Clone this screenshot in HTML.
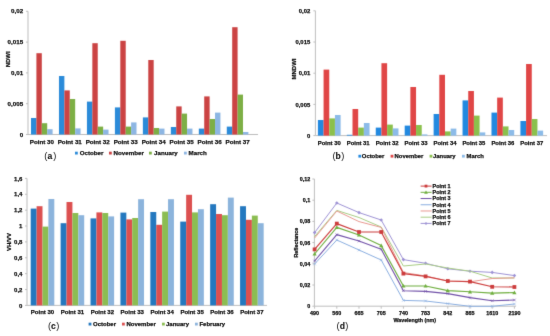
<!DOCTYPE html><html><head><meta charset="utf-8"><style>html,body{margin:0;padding:0;background:#fff;overflow:hidden}svg{display:block}</style></head><body>
<div id="w">
<svg width="550" height="336" viewBox="0 0 550 336" font-family="Liberation Sans, sans-serif" fill="#111" stroke-linejoin="round">
<style>text{stroke:#111;stroke-width:0.25px}</style>
<defs><filter id="bl" x="0" y="0" width="550" height="336" filterUnits="userSpaceOnUse" color-interpolation-filters="sRGB"><feConvolveMatrix order="3" kernelMatrix="1 7 1 7 54 7 1 7 1" divisor="86" edgeMode="duplicate"/></filter><filter id="bt" x="0" y="0" width="550" height="336" filterUnits="userSpaceOnUse" color-interpolation-filters="sRGB"><feConvolveMatrix order="3" kernelMatrix="0 1 0 1 12 1 0 1 0" divisor="16.0" edgeMode="none" preserveAlpha="false"/></filter></defs>
<rect width="550" height="336" fill="#fff"/>
<g filter="url(#bl)">
<line x1="28.00" y1="11.30" x2="28.00" y2="134.50" stroke="#bdbdbd" stroke-width="1"/>
<line x1="28.00" y1="134.50" x2="258.00" y2="134.50" stroke="#bdbdbd" stroke-width="1"/>
<line x1="26.00" y1="11.30" x2="28.00" y2="11.30" stroke="#bdbdbd" stroke-width="1"/>
<line x1="26.00" y1="42.10" x2="28.00" y2="42.10" stroke="#bdbdbd" stroke-width="1"/>
<line x1="26.00" y1="72.90" x2="28.00" y2="72.90" stroke="#bdbdbd" stroke-width="1"/>
<line x1="26.00" y1="103.70" x2="28.00" y2="103.70" stroke="#bdbdbd" stroke-width="1"/>
<line x1="26.00" y1="134.50" x2="28.00" y2="134.50" stroke="#bdbdbd" stroke-width="1"/>
<rect x="31.00" y="118.00" width="5.40" height="16.50" fill="#2b8bd9"/>
<rect x="36.40" y="53.20" width="5.40" height="81.30" fill="#cb4343"/>
<rect x="41.80" y="123.20" width="5.40" height="11.30" fill="#7daf45"/>
<rect x="47.20" y="129.20" width="5.40" height="5.30" fill="#8db6e3"/>
<rect x="58.97" y="76.00" width="5.40" height="58.50" fill="#2b8bd9"/>
<rect x="64.37" y="90.40" width="5.40" height="44.10" fill="#cb4343"/>
<rect x="69.77" y="99.00" width="5.40" height="35.50" fill="#7daf45"/>
<rect x="75.17" y="128.40" width="5.40" height="6.10" fill="#8db6e3"/>
<rect x="86.94" y="101.60" width="5.40" height="32.90" fill="#2b8bd9"/>
<rect x="92.34" y="43.20" width="5.40" height="91.30" fill="#cb4343"/>
<rect x="97.74" y="126.60" width="5.40" height="7.90" fill="#7daf45"/>
<rect x="103.14" y="129.60" width="5.40" height="4.90" fill="#8db6e3"/>
<rect x="114.91" y="107.40" width="5.40" height="27.10" fill="#2b8bd9"/>
<rect x="120.31" y="40.80" width="5.40" height="93.70" fill="#cb4343"/>
<rect x="125.71" y="126.60" width="5.40" height="7.90" fill="#7daf45"/>
<rect x="131.11" y="122.40" width="5.40" height="12.10" fill="#8db6e3"/>
<rect x="142.88" y="117.40" width="5.40" height="17.10" fill="#2b8bd9"/>
<rect x="148.28" y="60.00" width="5.40" height="74.50" fill="#cb4343"/>
<rect x="153.68" y="128.00" width="5.40" height="6.50" fill="#7daf45"/>
<rect x="159.08" y="128.60" width="5.40" height="5.90" fill="#8db6e3"/>
<rect x="170.85" y="127.00" width="5.40" height="7.50" fill="#2b8bd9"/>
<rect x="176.25" y="106.40" width="5.40" height="28.10" fill="#cb4343"/>
<rect x="181.65" y="113.60" width="5.40" height="20.90" fill="#7daf45"/>
<rect x="187.05" y="128.60" width="5.40" height="5.90" fill="#8db6e3"/>
<rect x="198.82" y="128.60" width="5.40" height="5.90" fill="#2b8bd9"/>
<rect x="204.22" y="96.40" width="5.40" height="38.10" fill="#cb4343"/>
<rect x="209.62" y="119.00" width="5.40" height="15.50" fill="#7daf45"/>
<rect x="215.02" y="112.60" width="5.40" height="21.90" fill="#8db6e3"/>
<rect x="226.79" y="126.60" width="5.40" height="7.90" fill="#2b8bd9"/>
<rect x="232.19" y="27.20" width="5.40" height="107.30" fill="#cb4343"/>
<rect x="237.59" y="94.60" width="5.40" height="39.90" fill="#7daf45"/>
<rect x="242.99" y="132.00" width="5.40" height="2.50" fill="#8db6e3"/>
<rect x="75.00" y="151.70" width="2.80" height="2.80" fill="#2b8bd9"/>
<rect x="109.00" y="151.70" width="2.80" height="2.80" fill="#cb4343"/>
<rect x="149.00" y="151.70" width="2.80" height="2.80" fill="#7daf45"/>
<rect x="184.00" y="151.70" width="2.80" height="2.80" fill="#8db6e3"/>
<line x1="315.40" y1="10.80" x2="315.40" y2="135.60" stroke="#bdbdbd" stroke-width="1"/>
<line x1="315.40" y1="135.60" x2="547.00" y2="135.60" stroke="#bdbdbd" stroke-width="1"/>
<line x1="313.40" y1="10.80" x2="315.40" y2="10.80" stroke="#bdbdbd" stroke-width="1"/>
<line x1="313.40" y1="42.00" x2="315.40" y2="42.00" stroke="#bdbdbd" stroke-width="1"/>
<line x1="313.40" y1="73.20" x2="315.40" y2="73.20" stroke="#bdbdbd" stroke-width="1"/>
<line x1="313.40" y1="104.40" x2="315.40" y2="104.40" stroke="#bdbdbd" stroke-width="1"/>
<line x1="313.40" y1="135.60" x2="315.40" y2="135.60" stroke="#bdbdbd" stroke-width="1"/>
<rect x="317.90" y="120.00" width="5.68" height="15.60" fill="#2289e0"/>
<rect x="323.58" y="69.60" width="5.68" height="66.00" fill="#e04646"/>
<rect x="329.26" y="118.40" width="5.68" height="17.20" fill="#8bc04c"/>
<rect x="334.94" y="115.00" width="5.68" height="20.60" fill="#8cbbe8"/>
<rect x="346.83" y="134.80" width="5.68" height="0.80" fill="#2289e0"/>
<rect x="352.51" y="109.00" width="5.68" height="26.60" fill="#e04646"/>
<rect x="358.19" y="127.60" width="5.68" height="8.00" fill="#8bc04c"/>
<rect x="363.87" y="123.00" width="5.68" height="12.60" fill="#8cbbe8"/>
<rect x="375.76" y="127.60" width="5.68" height="8.00" fill="#2289e0"/>
<rect x="381.44" y="63.20" width="5.68" height="72.40" fill="#e04646"/>
<rect x="387.12" y="124.60" width="5.68" height="11.00" fill="#8bc04c"/>
<rect x="392.80" y="128.40" width="5.68" height="7.20" fill="#8cbbe8"/>
<rect x="404.69" y="125.60" width="5.68" height="10.00" fill="#2289e0"/>
<rect x="410.37" y="87.00" width="5.68" height="48.60" fill="#e04646"/>
<rect x="416.05" y="125.00" width="5.68" height="10.60" fill="#8bc04c"/>
<rect x="421.73" y="134.40" width="5.68" height="1.20" fill="#8cbbe8"/>
<rect x="433.62" y="114.00" width="5.68" height="21.60" fill="#2289e0"/>
<rect x="439.30" y="74.80" width="5.68" height="60.80" fill="#e04646"/>
<rect x="444.98" y="131.40" width="5.68" height="4.20" fill="#8bc04c"/>
<rect x="450.66" y="128.60" width="5.68" height="7.00" fill="#8cbbe8"/>
<rect x="462.55" y="100.40" width="5.68" height="35.20" fill="#2289e0"/>
<rect x="468.23" y="91.00" width="5.68" height="44.60" fill="#e04646"/>
<rect x="473.91" y="115.60" width="5.68" height="20.00" fill="#8bc04c"/>
<rect x="479.59" y="132.40" width="5.68" height="3.20" fill="#8cbbe8"/>
<rect x="491.48" y="112.60" width="5.68" height="23.00" fill="#2289e0"/>
<rect x="497.16" y="97.60" width="5.68" height="38.00" fill="#e04646"/>
<rect x="502.84" y="126.40" width="5.68" height="9.20" fill="#8bc04c"/>
<rect x="508.52" y="130.00" width="5.68" height="5.60" fill="#8cbbe8"/>
<rect x="520.41" y="121.00" width="5.68" height="14.60" fill="#2289e0"/>
<rect x="526.09" y="64.00" width="5.68" height="71.60" fill="#e04646"/>
<rect x="531.77" y="119.00" width="5.68" height="16.60" fill="#8bc04c"/>
<rect x="537.45" y="130.60" width="5.68" height="5.00" fill="#8cbbe8"/>
<rect x="358.40" y="154.80" width="2.80" height="2.80" fill="#2289e0"/>
<rect x="390.60" y="154.80" width="2.80" height="2.80" fill="#e04646"/>
<rect x="429.60" y="154.80" width="2.80" height="2.80" fill="#8bc04c"/>
<rect x="462.00" y="154.80" width="2.80" height="2.80" fill="#8cbbe8"/>
<line x1="27.00" y1="178.40" x2="27.00" y2="305.40" stroke="#bdbdbd" stroke-width="1"/>
<line x1="27.00" y1="305.40" x2="267.00" y2="305.40" stroke="#bdbdbd" stroke-width="1"/>
<line x1="25.00" y1="178.40" x2="27.00" y2="178.40" stroke="#bdbdbd" stroke-width="1"/>
<line x1="25.00" y1="194.28" x2="27.00" y2="194.28" stroke="#bdbdbd" stroke-width="1"/>
<line x1="25.00" y1="210.15" x2="27.00" y2="210.15" stroke="#bdbdbd" stroke-width="1"/>
<line x1="25.00" y1="226.02" x2="27.00" y2="226.02" stroke="#bdbdbd" stroke-width="1"/>
<line x1="25.00" y1="241.90" x2="27.00" y2="241.90" stroke="#bdbdbd" stroke-width="1"/>
<line x1="25.00" y1="257.77" x2="27.00" y2="257.77" stroke="#bdbdbd" stroke-width="1"/>
<line x1="25.00" y1="273.65" x2="27.00" y2="273.65" stroke="#bdbdbd" stroke-width="1"/>
<line x1="25.00" y1="289.52" x2="27.00" y2="289.52" stroke="#bdbdbd" stroke-width="1"/>
<line x1="25.00" y1="305.40" x2="27.00" y2="305.40" stroke="#bdbdbd" stroke-width="1"/>
<rect x="30.70" y="208.60" width="5.90" height="96.80" fill="#2478bf"/>
<rect x="36.60" y="206.20" width="5.90" height="99.20" fill="#dc5050"/>
<rect x="42.50" y="226.60" width="5.90" height="78.80" fill="#8cbd52"/>
<rect x="48.40" y="199.00" width="5.90" height="106.40" fill="#8cb4dc"/>
<rect x="60.61" y="223.20" width="5.90" height="82.20" fill="#2478bf"/>
<rect x="66.51" y="202.00" width="5.90" height="103.40" fill="#dc5050"/>
<rect x="72.41" y="213.00" width="5.90" height="92.40" fill="#8cbd52"/>
<rect x="78.31" y="215.20" width="5.90" height="90.20" fill="#8cb4dc"/>
<rect x="90.52" y="218.40" width="5.90" height="87.00" fill="#2478bf"/>
<rect x="96.42" y="212.40" width="5.90" height="93.00" fill="#dc5050"/>
<rect x="102.32" y="213.00" width="5.90" height="92.40" fill="#8cbd52"/>
<rect x="108.22" y="216.40" width="5.90" height="89.00" fill="#8cb4dc"/>
<rect x="120.43" y="212.60" width="5.90" height="92.80" fill="#2478bf"/>
<rect x="126.33" y="219.40" width="5.90" height="86.00" fill="#dc5050"/>
<rect x="132.23" y="218.00" width="5.90" height="87.40" fill="#8cbd52"/>
<rect x="138.13" y="199.20" width="5.90" height="106.20" fill="#8cb4dc"/>
<rect x="150.34" y="212.00" width="5.90" height="93.40" fill="#2478bf"/>
<rect x="156.24" y="224.80" width="5.90" height="80.60" fill="#dc5050"/>
<rect x="162.14" y="211.60" width="5.90" height="93.80" fill="#8cbd52"/>
<rect x="168.04" y="199.20" width="5.90" height="106.20" fill="#8cb4dc"/>
<rect x="180.25" y="221.60" width="5.90" height="83.80" fill="#2478bf"/>
<rect x="186.15" y="194.80" width="5.90" height="110.60" fill="#dc5050"/>
<rect x="192.05" y="212.40" width="5.90" height="93.00" fill="#8cbd52"/>
<rect x="197.95" y="209.20" width="5.90" height="96.20" fill="#8cb4dc"/>
<rect x="210.16" y="204.20" width="5.90" height="101.20" fill="#2478bf"/>
<rect x="216.06" y="214.00" width="5.90" height="91.40" fill="#dc5050"/>
<rect x="221.96" y="215.20" width="5.90" height="90.20" fill="#8cbd52"/>
<rect x="227.86" y="197.60" width="5.90" height="107.80" fill="#8cb4dc"/>
<rect x="240.07" y="206.20" width="5.90" height="99.20" fill="#2478bf"/>
<rect x="245.97" y="219.80" width="5.90" height="85.60" fill="#dc5050"/>
<rect x="251.87" y="215.60" width="5.90" height="89.80" fill="#8cbd52"/>
<rect x="257.77" y="223.20" width="5.90" height="82.20" fill="#8cb4dc"/>
<rect x="88.60" y="322.70" width="2.80" height="2.80" fill="#2478bf"/>
<rect x="122.00" y="322.70" width="2.80" height="2.80" fill="#dc5050"/>
<rect x="162.00" y="322.70" width="2.80" height="2.80" fill="#8cbd52"/>
<rect x="195.00" y="322.70" width="2.80" height="2.80" fill="#8cb4dc"/>
<line x1="314.40" y1="179.00" x2="314.40" y2="306.20" stroke="#bdbdbd" stroke-width="1"/>
<line x1="314.40" y1="306.20" x2="516.00" y2="306.20" stroke="#bdbdbd" stroke-width="1"/>
<line x1="312.40" y1="179.00" x2="314.40" y2="179.00" stroke="#bdbdbd" stroke-width="1"/>
<line x1="312.40" y1="200.20" x2="314.40" y2="200.20" stroke="#bdbdbd" stroke-width="1"/>
<line x1="312.40" y1="221.40" x2="314.40" y2="221.40" stroke="#bdbdbd" stroke-width="1"/>
<line x1="312.40" y1="242.60" x2="314.40" y2="242.60" stroke="#bdbdbd" stroke-width="1"/>
<line x1="312.40" y1="263.80" x2="314.40" y2="263.80" stroke="#bdbdbd" stroke-width="1"/>
<line x1="312.40" y1="285.00" x2="314.40" y2="285.00" stroke="#bdbdbd" stroke-width="1"/>
<line x1="312.40" y1="306.20" x2="314.40" y2="306.20" stroke="#bdbdbd" stroke-width="1"/>
<line x1="314.60" y1="306.20" x2="314.60" y2="308.70" stroke="#bdbdbd" stroke-width="1"/>
<line x1="336.80" y1="306.20" x2="336.80" y2="308.70" stroke="#bdbdbd" stroke-width="1"/>
<line x1="359.00" y1="306.20" x2="359.00" y2="308.70" stroke="#bdbdbd" stroke-width="1"/>
<line x1="381.20" y1="306.20" x2="381.20" y2="308.70" stroke="#bdbdbd" stroke-width="1"/>
<line x1="403.40" y1="306.20" x2="403.40" y2="308.70" stroke="#bdbdbd" stroke-width="1"/>
<line x1="425.60" y1="306.20" x2="425.60" y2="308.70" stroke="#bdbdbd" stroke-width="1"/>
<line x1="447.80" y1="306.20" x2="447.80" y2="308.70" stroke="#bdbdbd" stroke-width="1"/>
<line x1="470.00" y1="306.20" x2="470.00" y2="308.70" stroke="#bdbdbd" stroke-width="1"/>
<line x1="492.20" y1="306.20" x2="492.20" y2="308.70" stroke="#bdbdbd" stroke-width="1"/>
<line x1="514.40" y1="306.20" x2="514.40" y2="308.70" stroke="#bdbdbd" stroke-width="1"/>
<polyline points="314.60,232.60 336.80,203.00 359.00,212.60 381.20,220.00 403.40,259.60 425.60,263.30 447.80,268.80 470.00,271.20 492.20,272.40 514.40,275.60" fill="none" stroke="#9d92d4" stroke-width="1.0" stroke-linejoin="round"/>
<path d="M314.60,230.80 L316.40,232.60 L314.60,234.40 L312.80,232.60Z" fill="#9d92d4"/>
<path d="M336.80,201.20 L338.60,203.00 L336.80,204.80 L335.00,203.00Z" fill="#9d92d4"/>
<path d="M359.00,210.80 L360.80,212.60 L359.00,214.40 L357.20,212.60Z" fill="#9d92d4"/>
<path d="M381.20,218.20 L383.00,220.00 L381.20,221.80 L379.40,220.00Z" fill="#9d92d4"/>
<path d="M403.40,257.80 L405.20,259.60 L403.40,261.40 L401.60,259.60Z" fill="#9d92d4"/>
<path d="M425.60,261.50 L427.40,263.30 L425.60,265.10 L423.80,263.30Z" fill="#9d92d4"/>
<path d="M447.80,267.00 L449.60,268.80 L447.80,270.60 L446.00,268.80Z" fill="#9d92d4"/>
<path d="M470.00,269.40 L471.80,271.20 L470.00,273.00 L468.20,271.20Z" fill="#9d92d4"/>
<path d="M492.20,270.60 L494.00,272.40 L492.20,274.20 L490.40,272.40Z" fill="#9d92d4"/>
<path d="M514.40,273.80 L516.20,275.60 L514.40,277.40 L512.60,275.60Z" fill="#9d92d4"/>
<polyline points="314.60,236.60 336.80,210.40 359.00,217.50 381.20,227.00 403.40,266.00 425.60,264.00 447.80,268.00 470.00,271.20 492.20,278.00 514.40,278.00" fill="none" stroke="#a8cc84" stroke-width="1.0" stroke-linejoin="round"/>
<polyline points="314.60,238.00 336.80,211.00 359.00,221.60 381.20,227.40 403.40,272.50 425.60,276.00 447.80,281.00 470.00,281.80 492.20,278.50 514.40,277.80" fill="none" stroke="#e89890" stroke-width="1.0" stroke-linejoin="round"/>
<polyline points="314.60,264.00 336.80,240.00 359.00,250.00 381.20,260.00 403.40,300.40 425.60,301.00 447.80,303.60 470.00,306.30 492.20,306.30 514.40,304.00" fill="none" stroke="#8aaee0" stroke-width="1.0" stroke-linejoin="round"/>
<path d="M313.30,262.70 L315.90,265.30 M315.90,262.70 L313.30,265.30" stroke="#8aaee0" stroke-width="0.6"/>
<path d="M335.50,238.70 L338.10,241.30 M338.10,238.70 L335.50,241.30" stroke="#8aaee0" stroke-width="0.6"/>
<path d="M357.70,248.70 L360.30,251.30 M360.30,248.70 L357.70,251.30" stroke="#8aaee0" stroke-width="0.6"/>
<path d="M379.90,258.70 L382.50,261.30 M382.50,258.70 L379.90,261.30" stroke="#8aaee0" stroke-width="0.6"/>
<path d="M402.10,299.10 L404.70,301.70 M404.70,299.10 L402.10,301.70" stroke="#8aaee0" stroke-width="0.6"/>
<path d="M424.30,299.70 L426.90,302.30 M426.90,299.70 L424.30,302.30" stroke="#8aaee0" stroke-width="0.6"/>
<path d="M446.50,302.30 L449.10,304.90 M449.10,302.30 L446.50,304.90" stroke="#8aaee0" stroke-width="0.6"/>
<path d="M468.70,305.00 L471.30,307.60 M471.30,305.00 L468.70,307.60" stroke="#8aaee0" stroke-width="0.6"/>
<path d="M490.90,305.00 L493.50,307.60 M493.50,305.00 L490.90,307.60" stroke="#8aaee0" stroke-width="0.6"/>
<path d="M513.10,302.70 L515.70,305.30 M515.70,302.70 L513.10,305.30" stroke="#8aaee0" stroke-width="0.6"/>
<polyline points="314.60,261.00 336.80,234.60 359.00,241.00 381.20,249.20 403.40,290.70 425.60,291.40 447.80,293.60 470.00,297.60 492.20,300.70 514.40,300.00" fill="none" stroke="#7050a8" stroke-width="1.1" stroke-linejoin="round"/>
<path d="M313.30,259.70 L315.90,262.30 M315.90,259.70 L313.30,262.30" stroke="#7050a8" stroke-width="0.6"/>
<path d="M335.50,233.30 L338.10,235.90 M338.10,233.30 L335.50,235.90" stroke="#7050a8" stroke-width="0.6"/>
<path d="M357.70,239.70 L360.30,242.30 M360.30,239.70 L357.70,242.30" stroke="#7050a8" stroke-width="0.6"/>
<path d="M379.90,247.90 L382.50,250.50 M382.50,247.90 L379.90,250.50" stroke="#7050a8" stroke-width="0.6"/>
<path d="M402.10,289.40 L404.70,292.00 M404.70,289.40 L402.10,292.00" stroke="#7050a8" stroke-width="0.6"/>
<path d="M424.30,290.10 L426.90,292.70 M426.90,290.10 L424.30,292.70" stroke="#7050a8" stroke-width="0.6"/>
<path d="M446.50,292.30 L449.10,294.90 M449.10,292.30 L446.50,294.90" stroke="#7050a8" stroke-width="0.6"/>
<path d="M468.70,296.30 L471.30,298.90 M471.30,296.30 L468.70,298.90" stroke="#7050a8" stroke-width="0.6"/>
<path d="M490.90,299.40 L493.50,302.00 M493.50,299.40 L490.90,302.00" stroke="#7050a8" stroke-width="0.6"/>
<path d="M513.10,298.70 L515.70,301.30 M515.70,298.70 L513.10,301.30" stroke="#7050a8" stroke-width="0.6"/>
<polyline points="314.60,254.00 336.80,227.40 359.00,235.00 381.20,245.60 403.40,286.00 425.60,286.00 447.80,290.60 470.00,291.80 492.20,293.10 514.40,292.60" fill="none" stroke="#6fae3e" stroke-width="1.15" stroke-linejoin="round"/>
<path d="M314.60,251.90 L316.70,255.60 L312.50,255.60Z" fill="#6fae3e"/>
<path d="M336.80,225.30 L338.90,229.00 L334.70,229.00Z" fill="#6fae3e"/>
<path d="M359.00,232.90 L361.10,236.60 L356.90,236.60Z" fill="#6fae3e"/>
<path d="M381.20,243.50 L383.30,247.20 L379.10,247.20Z" fill="#6fae3e"/>
<path d="M403.40,283.90 L405.50,287.60 L401.30,287.60Z" fill="#6fae3e"/>
<path d="M425.60,283.90 L427.70,287.60 L423.50,287.60Z" fill="#6fae3e"/>
<path d="M447.80,288.50 L449.90,292.20 L445.70,292.20Z" fill="#6fae3e"/>
<path d="M470.00,289.70 L472.10,293.40 L467.90,293.40Z" fill="#6fae3e"/>
<path d="M492.20,291.00 L494.30,294.70 L490.10,294.70Z" fill="#6fae3e"/>
<path d="M514.40,290.50 L516.50,294.20 L512.30,294.20Z" fill="#6fae3e"/>
<polyline points="314.60,249.40 336.80,223.60 359.00,232.00 381.20,232.00 403.40,273.60 425.60,276.40 447.80,281.00 470.00,281.60 492.20,286.80 514.40,287.00" fill="none" stroke="#cc3c3c" stroke-width="1.15" stroke-linejoin="round"/>
<rect x="312.70" y="247.50" width="3.80" height="3.80" fill="#cc3c3c"/>
<rect x="334.90" y="221.70" width="3.80" height="3.80" fill="#cc3c3c"/>
<rect x="357.10" y="230.10" width="3.80" height="3.80" fill="#cc3c3c"/>
<rect x="379.30" y="230.10" width="3.80" height="3.80" fill="#cc3c3c"/>
<rect x="401.50" y="271.70" width="3.80" height="3.80" fill="#cc3c3c"/>
<rect x="423.70" y="274.50" width="3.80" height="3.80" fill="#cc3c3c"/>
<rect x="445.90" y="279.10" width="3.80" height="3.80" fill="#cc3c3c"/>
<rect x="468.10" y="279.70" width="3.80" height="3.80" fill="#cc3c3c"/>
<rect x="490.30" y="284.90" width="3.80" height="3.80" fill="#cc3c3c"/>
<rect x="512.50" y="285.10" width="3.80" height="3.80" fill="#cc3c3c"/>
<line x1="420.60" y1="186.10" x2="431.60" y2="186.10" stroke="#cc3c3c" stroke-width="1.0"/>
<rect x="424.60" y="184.70" width="2.80" height="2.80" fill="#cc3c3c"/>
<line x1="420.60" y1="192.32" x2="431.60" y2="192.32" stroke="#6fae3e" stroke-width="1.0"/>
<path d="M426.00,190.42 L427.90,193.72 L424.10,193.72Z" fill="#6fae3e"/>
<line x1="420.60" y1="198.54" x2="431.60" y2="198.54" stroke="#7050a8" stroke-width="1.0"/>
<line x1="420.60" y1="204.76" x2="431.60" y2="204.76" stroke="#8aaee0" stroke-width="1.0"/>
<line x1="420.60" y1="210.98" x2="431.60" y2="210.98" stroke="#e89890" stroke-width="1.0"/>
<line x1="420.60" y1="217.20" x2="431.60" y2="217.20" stroke="#a8cc84" stroke-width="1.0"/>
<line x1="420.60" y1="223.42" x2="431.60" y2="223.42" stroke="#9d92d4" stroke-width="1.0"/>
<path d="M426.00,221.92 L427.50,223.42 L426.00,224.92 L424.50,223.42Z" fill="#9d92d4"/>
</g><g filter="url(#bt)">
<text x="23.10" y="13.40" font-size="6.2" text-anchor="end" font-weight="bold" >0,02</text>
<text x="23.10" y="44.20" font-size="6.2" text-anchor="end" font-weight="bold" >0,015</text>
<text x="23.10" y="75.00" font-size="6.2" text-anchor="end" font-weight="bold" >0,01</text>
<text x="23.10" y="105.80" font-size="6.2" text-anchor="end" font-weight="bold" >0,005</text>
<text x="23.10" y="136.60" font-size="6.2" text-anchor="end" font-weight="bold" >0</text>
<text x="41.80" y="143.60" font-size="6.2" text-anchor="middle" font-weight="bold" >Point 30</text>
<text x="69.77" y="143.60" font-size="6.2" text-anchor="middle" font-weight="bold" >Point 31</text>
<text x="97.74" y="143.60" font-size="6.2" text-anchor="middle" font-weight="bold" >Point 32</text>
<text x="125.71" y="143.60" font-size="6.2" text-anchor="middle" font-weight="bold" >Point 33</text>
<text x="153.68" y="143.60" font-size="6.2" text-anchor="middle" font-weight="bold" >Point 34</text>
<text x="181.65" y="143.60" font-size="6.2" text-anchor="middle" font-weight="bold" >Point 35</text>
<text x="209.62" y="143.60" font-size="6.2" text-anchor="middle" font-weight="bold" >Point 36</text>
<text x="237.59" y="143.60" font-size="6.2" text-anchor="middle" font-weight="bold" >Point 37</text>
<text x="79.70" y="155.10" font-size="6.2" text-anchor="start" font-weight="bold" >October</text>
<text x="113.60" y="155.10" font-size="6.2" text-anchor="start" font-weight="bold" >November</text>
<text x="154.00" y="155.10" font-size="6.2" text-anchor="start" font-weight="bold" >January</text>
<text x="188.60" y="155.10" font-size="6.2" text-anchor="start" font-weight="bold" >March</text>
<text x="8.2" y="59.3" font-size="6" font-weight="bold" text-anchor="middle" transform="rotate(-90 8.2 59.3)" dy="2.1">NDWI</text>
<text x="45.75" y="158.75" font-size="9.3" text-anchor="middle" style="stroke:none">(</text>
<text x="49.85" y="158.75" font-size="8.6" text-anchor="middle" font-weight="bold" style="stroke-width:0.1px">a</text>
<text x="54.7" y="158.75" font-size="9.3" text-anchor="middle" style="stroke:none">)</text>
<text x="310.20" y="12.90" font-size="5.9" text-anchor="end" font-weight="bold" >0,02</text>
<text x="310.20" y="44.10" font-size="5.9" text-anchor="end" font-weight="bold" >0,015</text>
<text x="310.20" y="75.30" font-size="5.9" text-anchor="end" font-weight="bold" >0,01</text>
<text x="310.20" y="106.50" font-size="5.9" text-anchor="end" font-weight="bold" >0,005</text>
<text x="310.20" y="137.70" font-size="5.9" text-anchor="end" font-weight="bold" >0</text>
<text x="329.26" y="145.20" font-size="5.9" text-anchor="middle" font-weight="bold" >Point 30</text>
<text x="358.19" y="145.20" font-size="5.9" text-anchor="middle" font-weight="bold" >Point 31</text>
<text x="387.12" y="145.20" font-size="5.9" text-anchor="middle" font-weight="bold" >Point 32</text>
<text x="416.05" y="145.20" font-size="5.9" text-anchor="middle" font-weight="bold" >Point 33</text>
<text x="444.98" y="145.20" font-size="5.9" text-anchor="middle" font-weight="bold" >Point 34</text>
<text x="473.91" y="145.20" font-size="5.9" text-anchor="middle" font-weight="bold" >Point 35</text>
<text x="502.84" y="145.20" font-size="5.9" text-anchor="middle" font-weight="bold" >Point 36</text>
<text x="531.77" y="145.20" font-size="5.9" text-anchor="middle" font-weight="bold" >Point 37</text>
<text x="361.80" y="157.70" font-size="5.9" text-anchor="start" font-weight="bold" >October</text>
<text x="394.60" y="157.70" font-size="5.9" text-anchor="start" font-weight="bold" >November</text>
<text x="433.00" y="157.70" font-size="5.9" text-anchor="start" font-weight="bold" >January</text>
<text x="466.60" y="157.70" font-size="5.9" text-anchor="start" font-weight="bold" >March</text>
<text x="294.1" y="69" font-size="6" font-weight="bold" text-anchor="middle" transform="rotate(-90 294.1 69)" dy="2.1">MNDWI</text>
<text x="333.95" y="158.85" font-size="9.3" text-anchor="middle" style="stroke:none">(</text>
<text x="338.15" y="158.85" font-size="8.6" text-anchor="middle" font-weight="bold" style="stroke-width:0.1px">b</text>
<text x="342.7" y="158.85" font-size="9.3" text-anchor="middle" style="stroke:none">)</text>
<text x="22.40" y="180.50" font-size="6.0" text-anchor="end" font-weight="bold" >1,6</text>
<text x="22.40" y="196.38" font-size="6.0" text-anchor="end" font-weight="bold" >1,4</text>
<text x="22.40" y="212.25" font-size="6.0" text-anchor="end" font-weight="bold" >1,2</text>
<text x="22.40" y="228.12" font-size="6.0" text-anchor="end" font-weight="bold" >1</text>
<text x="22.40" y="244.00" font-size="6.0" text-anchor="end" font-weight="bold" >0,8</text>
<text x="22.40" y="259.88" font-size="6.0" text-anchor="end" font-weight="bold" >0,6</text>
<text x="22.40" y="275.75" font-size="6.0" text-anchor="end" font-weight="bold" >0,4</text>
<text x="22.40" y="291.62" font-size="6.0" text-anchor="end" font-weight="bold" >0,2</text>
<text x="22.40" y="307.50" font-size="6.0" text-anchor="end" font-weight="bold" >0</text>
<text x="42.50" y="314.30" font-size="6.0" text-anchor="middle" font-weight="bold" >Point 30</text>
<text x="72.41" y="314.30" font-size="6.0" text-anchor="middle" font-weight="bold" >Point 31</text>
<text x="102.32" y="314.30" font-size="6.0" text-anchor="middle" font-weight="bold" >Point 32</text>
<text x="132.23" y="314.30" font-size="6.0" text-anchor="middle" font-weight="bold" >Point 33</text>
<text x="162.14" y="314.30" font-size="6.0" text-anchor="middle" font-weight="bold" >Point 34</text>
<text x="192.05" y="314.30" font-size="6.0" text-anchor="middle" font-weight="bold" >Point 35</text>
<text x="221.96" y="314.30" font-size="6.0" text-anchor="middle" font-weight="bold" >Point 36</text>
<text x="251.87" y="314.30" font-size="6.0" text-anchor="middle" font-weight="bold" >Point 37</text>
<text x="93.00" y="325.90" font-size="6.0" text-anchor="start" font-weight="bold" >October</text>
<text x="126.40" y="325.90" font-size="6.0" text-anchor="start" font-weight="bold" >November</text>
<text x="166.00" y="325.90" font-size="6.0" text-anchor="start" font-weight="bold" >January</text>
<text x="199.40" y="325.90" font-size="6.0" text-anchor="start" font-weight="bold" >February</text>
<text x="8.9" y="242" font-size="6" font-weight="bold" text-anchor="middle" transform="rotate(-90 8.9 242)" dy="2.1">VH/VV</text>
<text x="49.45" y="328.75" font-size="9.3" text-anchor="middle" style="stroke:none">(</text>
<text x="53.35" y="328.75" font-size="8.6" text-anchor="middle" font-weight="bold" style="stroke-width:0.1px">c</text>
<text x="57.7" y="328.75" font-size="9.3" text-anchor="middle" style="stroke:none">)</text>
<text x="310.20" y="180.90" font-size="5.4" text-anchor="end" font-weight="bold" >0,12</text>
<text x="310.20" y="202.10" font-size="5.4" text-anchor="end" font-weight="bold" >0,1</text>
<text x="310.20" y="223.30" font-size="5.4" text-anchor="end" font-weight="bold" >0,08</text>
<text x="310.20" y="244.50" font-size="5.4" text-anchor="end" font-weight="bold" >0,06</text>
<text x="310.20" y="265.70" font-size="5.4" text-anchor="end" font-weight="bold" >0,04</text>
<text x="310.20" y="286.90" font-size="5.4" text-anchor="end" font-weight="bold" >0,02</text>
<text x="310.20" y="308.10" font-size="5.4" text-anchor="end" font-weight="bold" >0</text>
<text x="314.60" y="314.80" font-size="5.4" text-anchor="middle" font-weight="bold" >490</text>
<text x="336.80" y="314.80" font-size="5.4" text-anchor="middle" font-weight="bold" >560</text>
<text x="359.00" y="314.80" font-size="5.4" text-anchor="middle" font-weight="bold" >665</text>
<text x="381.20" y="314.80" font-size="5.4" text-anchor="middle" font-weight="bold" >705</text>
<text x="403.40" y="314.80" font-size="5.4" text-anchor="middle" font-weight="bold" >740</text>
<text x="425.60" y="314.80" font-size="5.4" text-anchor="middle" font-weight="bold" >783</text>
<text x="447.80" y="314.80" font-size="5.4" text-anchor="middle" font-weight="bold" >842</text>
<text x="470.00" y="314.80" font-size="5.4" text-anchor="middle" font-weight="bold" >865</text>
<text x="492.20" y="314.80" font-size="5.4" text-anchor="middle" font-weight="bold" >1610</text>
<text x="514.40" y="314.80" font-size="5.4" text-anchor="middle" font-weight="bold" >2190</text>
<text x="414.70" y="322.00" font-size="5.3" text-anchor="middle" font-weight="bold" >Wavelength (nm)</text>
<text x="296.2" y="242.6" font-size="5.3" font-weight="bold" text-anchor="middle" transform="rotate(-90 296.2 242.6)" dy="1.9">Reflectance</text>
<text x="338.15" y="328.65" font-size="9.3" text-anchor="middle" style="stroke:none">(</text>
<text x="342.25" y="328.65" font-size="8.6" text-anchor="middle" font-weight="bold" style="stroke-width:0.1px">d</text>
<text x="346.8" y="328.65" font-size="9.3" text-anchor="middle" style="stroke:none">)</text>
<text x="432.60" y="188.05" font-size="5.4" text-anchor="start" font-weight="bold" >Point 1</text>
<text x="432.60" y="194.27" font-size="5.4" text-anchor="start" font-weight="bold" >Point 2</text>
<text x="432.60" y="200.49" font-size="5.4" text-anchor="start" font-weight="bold" >Point 3</text>
<text x="432.60" y="206.71" font-size="5.4" text-anchor="start" font-weight="bold" >Point 4</text>
<text x="432.60" y="212.93" font-size="5.4" text-anchor="start" font-weight="bold" >Point 5</text>
<text x="432.60" y="219.15" font-size="5.4" text-anchor="start" font-weight="bold" >Point 6</text>
<text x="432.60" y="225.37" font-size="5.4" text-anchor="start" font-weight="bold" >Point 7</text>
</g></svg></div></body></html>
